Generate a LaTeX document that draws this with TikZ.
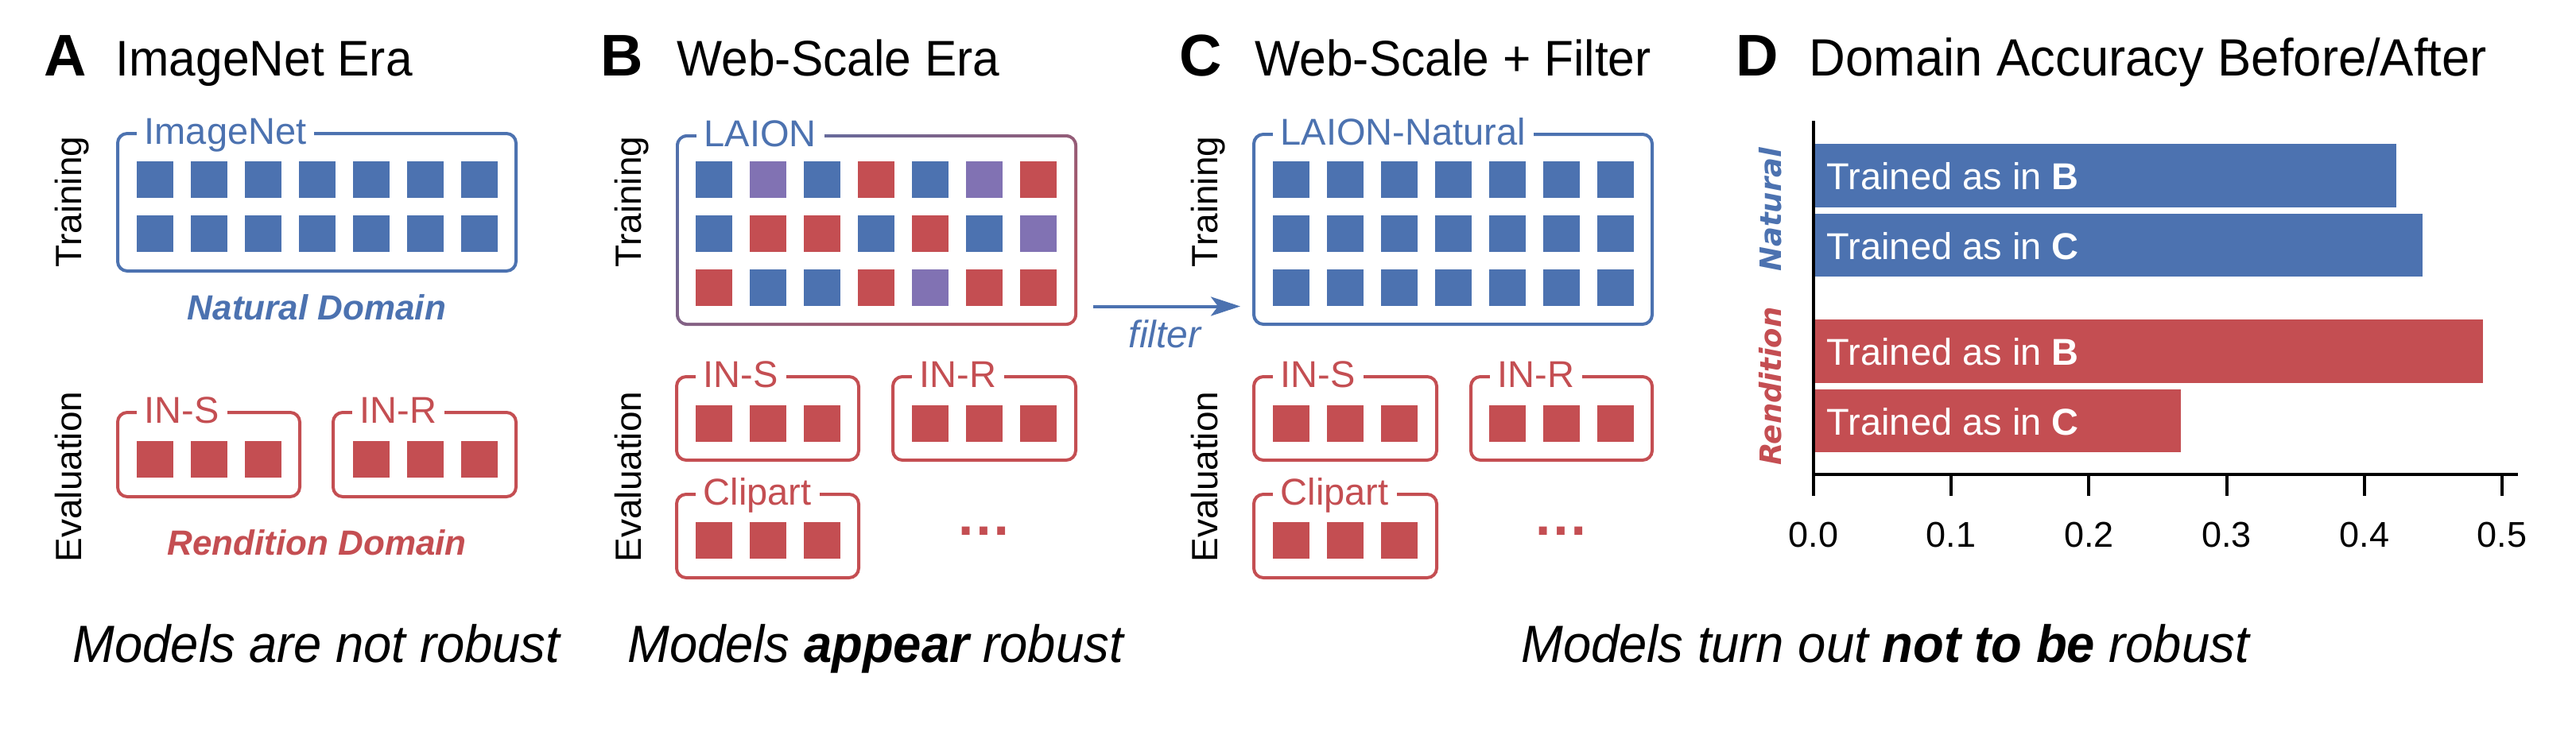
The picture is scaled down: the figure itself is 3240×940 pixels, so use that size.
\documentclass[tikz,border=0pt]{standalone}
\usepackage{fontspec}
\setmainfont{Liberation Sans}
\newfontfamily\condf{Liberation Sans}[FakeStretch=0.96]
\newfontfamily\dejav{DejaVu Sans}
\usetikzlibrary{fit,calc,arrows.meta,shadings}
\definecolor{bluec}{HTML}{4C72B0}
\definecolor{redc}{HTML}{C44E52}
\definecolor{purc}{HTML}{8172B3}
\newcommand\pxs[1]{\fontsize{\fpeval{#1*0.28453}pt}{\fpeval{#1*0.34}pt}\selectfont}
\tikzset{
  box/.style={draw, line width=0.4mm, rounded corners=1.2mm, inner sep=0pt, outer sep=0pt},
  lbl/.style={font=\pxs{47}, fill=white, inner xsep=1mm, inner ysep=0.4mm, anchor=base west},
  rotlbl/.style={font=\pxs{46}, rotate=90, anchor=base, inner sep=0pt},
  letter/.style={font=\pxs{74}\bfseries, anchor=base west, inner sep=0pt},
  ttl/.style={font={\condf\pxs{63}}, anchor=base west, inner sep=0pt},
  capt/.style={font={\condf\pxs{66}\itshape}, anchor=base, inner sep=0pt},
  dom/.style={font=\pxs{44}\bfseries\itshape, anchor=base, inner sep=0pt},
  barlbl/.style={font=\pxs{47}, text=white, anchor=base west, inner sep=0pt},
  ticklbl/.style={font=\pxs{45}, anchor=base, inner sep=0pt},
  grp/.style={font={\dejav\pxs{37}\bfseries\itshape}, rotate=90, anchor=center, inner sep=0pt},
  dots/.style={font=\pxs{70}\bfseries, text=redc, anchor=base, inner sep=0pt},
  axis/.style={line width=0.4mm},
}
\begin{document}
\begin{tikzpicture}[x=0.1mm,y=-0.1mm]
\useasboundingbox (0,0) rectangle (3240,940);

% ---------------- titles
\node[letter] (la) at (55,95) {A};
\node[ttl] (ta) at (145,95) {ImageNet Era};
\node[letter] (lb) at (755,95) {B};
\node[ttl] (tb) at (851,95) {Web-Scale Era};
\node[letter] (lc) at (1483,95) {C};
\node[ttl] (tc) at (1578,95) {Web-Scale + Filter};
\node[letter] (ld) at (2183,95) {D};
\node[ttl, font={\condf\pxs{66}}] (td) at (2275,95) {Domain Accuracy Before/After};

% ---------------- side labels
\node[rotlbl] (trA) at (102,254) {Training};
\node[rotlbl] (evA) at (102,600) {Evaluation};
\node[rotlbl] (trB) at (806,254) {Training};
\node[rotlbl] (evB) at (806,600) {Evaluation};
\node[rotlbl] (trC) at (1531,254) {Training};
\node[rotlbl] (evC) at (1531,600) {Evaluation};

% ================= Panel A
\node[box, draw=bluec, fit={(148,168)(649,341)}] (inetbox) {};
\foreach \i in {0,...,6} \foreach \j in {0,1}
  \fill[bluec] ({172+68*\i},{203+68*\j}) rectangle +(46,46);
\node[lbl, text=bluec] (inetlbl) at ($(inetbox.north west)+(23,13)$) {ImageNet};
\node[dom, text=bluec] (natdom) at (398.5,402) {Natural Domain};

\node[box, draw=redc, fit={(148,519)(377,625)}] (insA) {};
\node[box, draw=redc, fit={(419,519)(649,625)}] (inrA) {};
\foreach \i in {0,1,2} {
  \fill[redc] ({172+68*\i},555) rectangle +(46,46);
  \fill[redc] ({444+68*\i},555) rectangle +(46,46);
}
\node[lbl, text=redc] (insAl) at ($(insA.north west)+(23,13)$) {IN-S};
\node[lbl, text=redc] (inrAl) at ($(inrA.north west)+(23,13)$) {IN-R};
\node[dom, text=redc] (rendom) at (398.5,698) {Rendition Domain};

\node[capt] (capa) at (398,833) {Models are not robust};

% ================= Panel B
\node[fit={(852,171)(1353,408)}, inner sep=0pt, outer sep=0pt] (laionbox) {};
\shade[rounded corners=1.4mm, upper left=bluec, lower right=redc,
       upper right=redc!60!bluec, lower left=redc!45!bluec]
  ([shift={(-2,-2)}]laionbox.north west) rectangle ([shift={(2,2)}]laionbox.south east);
\fill[white, rounded corners=1.0mm]
  ([shift={(2,2)}]laionbox.north west) rectangle ([shift={(-2,-2)}]laionbox.south east);
\foreach \c [count=\i from 0] in {bluec,purc,bluec,redc,bluec,purc,redc}
  \fill[\c] ({875+68*\i},203) rectangle +(46,46);
\foreach \c [count=\i from 0] in {bluec,redc,redc,bluec,redc,bluec,purc}
  \fill[\c] ({875+68*\i},271) rectangle +(46,46);
\foreach \c [count=\i from 0] in {redc,bluec,bluec,redc,purc,redc,redc}
  \fill[\c] ({875+68*\i},339) rectangle +(46,46);
\node[lbl, text=bluec] (laionlbl) at ($(laionbox.north west)+(23,13)$) {LAION};

\node[box, draw=redc, fit={(851,474)(1080,579)}] (insB) {};
\node[box, draw=redc, fit={(1123,474)(1353,579)}] (inrB) {};
\node[box, draw=redc, fit={(851,622)(1080,727)}] (clpB) {};
\foreach \i in {0,1,2} {
  \fill[redc] ({875+68*\i},510) rectangle +(46,46);
  \fill[redc] ({1147+68*\i},510) rectangle +(46,46);
  \fill[redc] ({875+68*\i},657) rectangle +(46,46);
}
\node[lbl, text=redc] (insBl) at ($(insB.north west)+(23,13)$) {IN-S};
\node[lbl, text=redc] (inrBl) at ($(inrB.north west)+(23,13)$) {IN-R};
\node[lbl, text=redc] (clpBl) at ($(clpB.north west)+(23,13)$) {Clipart};
\node[dots] (dotsB) at (1237,673) {…};

\node[capt] (capb) at (1101,833) {Models \textbf{appear} robust};

% ================= Panel C
\node[box, draw=bluec, fit={(1577,169)(2078,408)}] (natbox) {};
\foreach \i in {0,...,6} \foreach \j in {0,1,2}
  \fill[bluec] ({1601+68*\i},{203+68*\j}) rectangle +(46,46);
\node[lbl, text=bluec] (natlbl) at ($(natbox.north west)+(23,13)$) {LAION-Natural};

\node[box, draw=redc, fit={(1577,474)(1807,579)}] (insC) {};
\node[box, draw=redc, fit={(1850,474)(2078,579)}] (inrC) {};
\node[box, draw=redc, fit={(1577,622)(1807,727)}] (clpC) {};
\foreach \i in {0,1,2} {
  \fill[redc] ({1601+68*\i},510) rectangle +(46,46);
  \fill[redc] ({1873+68*\i},510) rectangle +(46,46);
  \fill[redc] ({1601+68*\i},657) rectangle +(46,46);
}
\node[lbl, text=redc] (insCl) at ($(insC.north west)+(23,13)$) {IN-S};
\node[lbl, text=redc] (inrCl) at ($(inrC.north west)+(23,13)$) {IN-R};
\node[lbl, text=redc] (clpCl) at ($(clpC.north west)+(23,13)$) {Clipart};
\node[dots] (dotsC) at (1963,673) {…};

% filter arrow
\coordinate (fa) at ($(laionbox.east)+(22,96)$);
\coordinate (fb) at ($(fa -| natbox.west)+(-17,0)$);
\draw[bluec, line width=0.4mm, -{Stealth[length=3.7mm,width=2.4mm,inset=0.9mm]}] (fa) -- (fb);
\node[font=\pxs{48}\itshape, text=bluec, anchor=base, inner sep=0pt] (filt) at (1465,437) {filter};

\node[capt] (capc) at (2371,833) {Models turn out \textbf{not to be} robust};

% ================= Panel D (bar chart)
\fill[bluec] (2281,181) rectangle (3014,261);
\fill[bluec] (2281,269) rectangle (3047,348);
\fill[redc]  (2281,402) rectangle (3123,482);
\fill[redc]  (2281,490) rectangle (2743,569);
\node[barlbl] (b1) at (2297,238) {Trained as in \textbf{B}};
\node[barlbl] (b2) at (2297,326) {Trained as in \textbf{C}};
\node[barlbl] (b3) at (2297,459) {Trained as in \textbf{B}};
\node[barlbl] (b4) at (2297,547) {Trained as in \textbf{C}};
\draw[axis] (2281,152) -- (2281,597) -- (3167,597);
\foreach \k in {0,...,5} {
  \draw[axis] ({2281+173.2*\k},597) -- ++(0,27);
  \node[ticklbl] (tk\k) at ({2281+173.2*\k},688) {0.\k};
}
\node[grp, text=bluec] (gnat) at (2227,264) {Natural};
\node[grp, text=redc] (gren) at (2227,486) {Rendition};
\end{tikzpicture}
\end{document}
